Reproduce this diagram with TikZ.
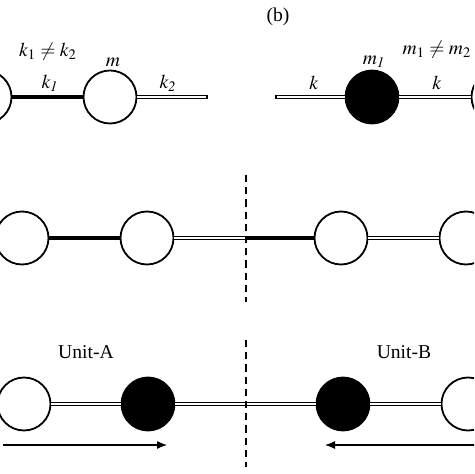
\documentclass[tikz,border=0pt]{standalone}
\usepackage{mathptmx}
\usepackage{fontspec}
\setmainfont{Liberation Serif}
\usetikzlibrary{positioning,calc,arrows.meta}

\tikzset{
	mass/.style={circle,draw,line width=0.9pt,minimum size=26.5pt,inner sep=0pt,fill=white},
	heavy/.style={mass,fill=black},
	stiff/.style={line width=2.2pt},
	soft/.style={double,line width=0.6pt,double distance=0.9pt},
	cut/.style={line width=1.4pt,dash pattern=on 3.6pt off 2.5pt},
	lbl/.style={font=\fontsize{9.8}{11}\selectfont,inner sep=0pt}
}

\begin{document}
\begin{tikzpicture}[x=0.5pt,y=-0.5pt,>={Latex[length=5pt,width=4pt]}]
	\useasboundingbox (0,0) rectangle (474,474);
	\clip (0,0) rectangle (474,474);
	% (b) label
	\node[lbl] (b) at (278,17) {(b)};

	% top row, left: two springs, one mass
	\node[mass] (t1) at (-15,97) {};
	\node[mass] (t2) at (110,97) {};
	\coordinate (t3) at (207,97);
	\draw[stiff] (t1) -- (t2);
	\draw[soft] (t2) -- (t3);
	\draw[line width=0.6pt] ($(t3)+(0,-2.1)$) -- ($(t3)+(0,2.1)$);
	\node[lbl] at (50,83) {$k_{\mathit{1}}$};
	\node[lbl] at (168,83) {$k_{\mathit{2}}$};
	\node[lbl] at (113,62) {$m$};
	\node[lbl] at (48,52) {$k_1\neq k_2$};

	% top row, right: two masses, one spring
	\coordinate (t4) at (276,97);
	\node[heavy] (t5) at (372,97) {};
	\node[mass] (t6) at (498,97) {};
	\draw[soft] (t4) -- (t5);
	\draw[soft] (t5) -- (t6);
	\draw[line width=0.6pt] ($(t4)+(0,-2.1)$) -- ($(t4)+(0,2.1)$);
	\node[lbl] at (314,83) {$k$};
	\node[lbl] at (437,83) {$k$};
	\node[lbl] at (374,62) {$m_{\mathit{1}}$};
	\node[lbl] at (437,50) {$m_1\neq m_2$};

	% middle row
	\node[mass] (a1) at (22,238) {};
	\node[mass] (a2) at (147,238) {};
	\coordinate (a3) at (246,238);
	\node[mass] (a4) at (341,238) {};
	\node[mass] (a5) at (466,238) {};
	\draw[stiff] (a1) -- (a2);
	\draw[soft] (a2) -- (a3);
	\draw[stiff] (a3) -- (a4);
	\draw[soft] (a4) -- (a5);
	\draw[cut] (246,175) -- (246,302);

	% bottom row
	\node[mass] (c1) at (24,404) {};
	\node[heavy] (c2) at (148,404) {};
	\node[heavy] (c3) at (343,404) {};
	\node[mass] (c4) at (468,404) {};
	\draw[soft] (c1) -- (c2);
	\draw[soft] (c2) -- (c3);
	\draw[soft] (c3) -- (c4);
	\draw[cut] (246,340) -- (246,467);
	\node[lbl] (ua) at (86,352) {Unit-A};
	\node[lbl] (ub) at (404,352) {Unit-B};
	\coordinate (l1) at (3,445);
	\coordinate (l2) at (167,445);
	\coordinate (r1) at (476,445);
	\coordinate (r2) at (325,445);
	\draw[->,line width=0.6pt] (l1) -- (l2);
	\draw[->,line width=0.6pt] (r1) -- (r2);
\end{tikzpicture}
\end{document}
